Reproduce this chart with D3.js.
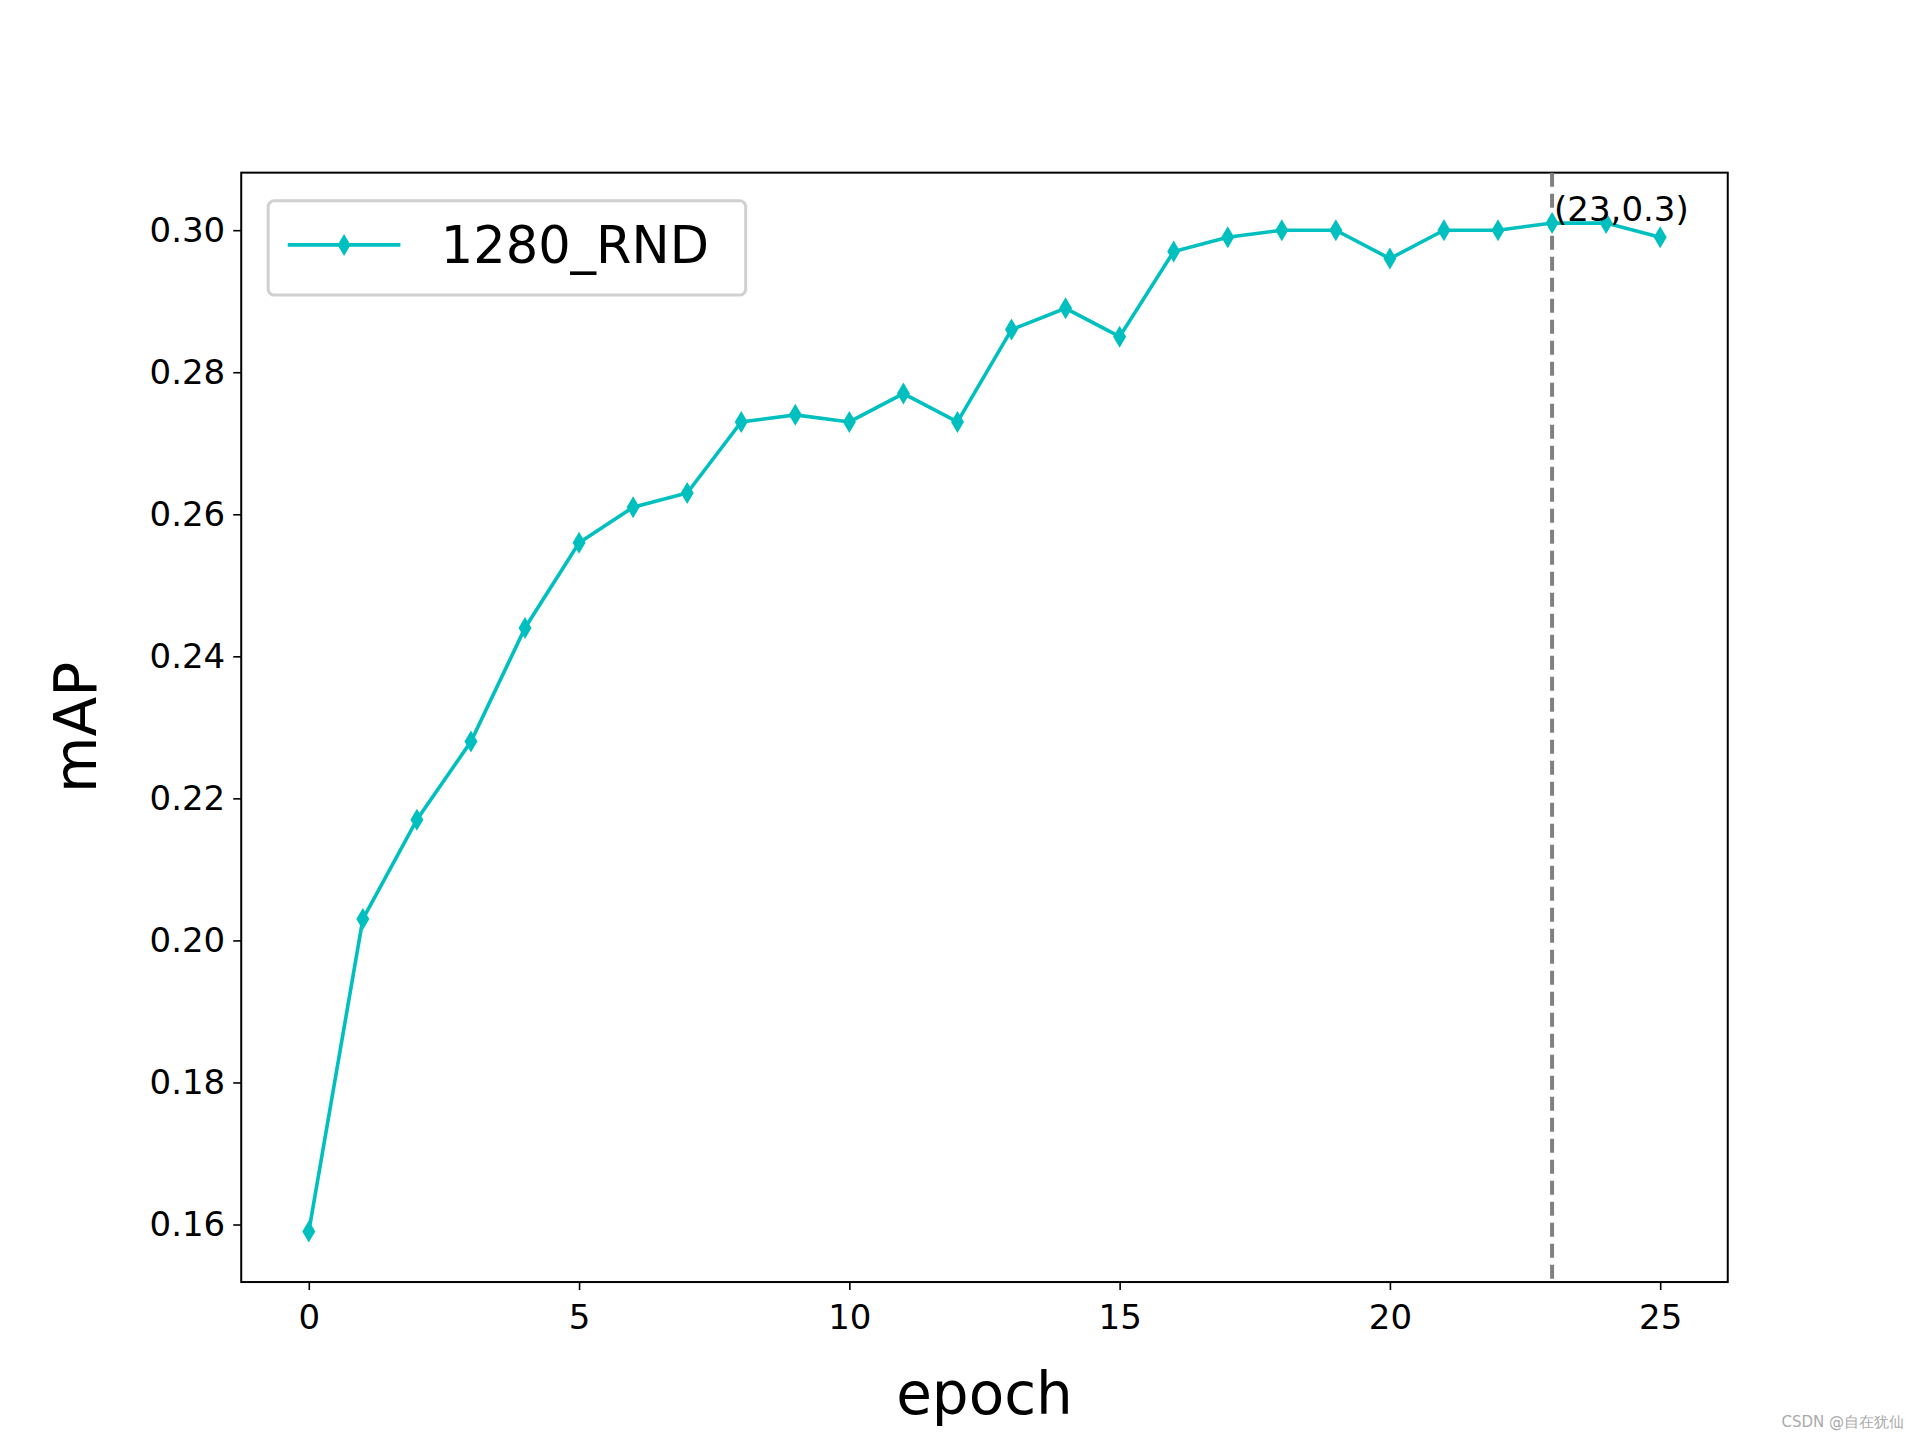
<!DOCTYPE html>
<html><head><meta charset="utf-8">
<script src="https://cdn.jsdelivr.net/npm/d3@7"></script>
<style>body{margin:0;background:#fff}text{font-family:"DejaVu Sans",sans-serif}</style>
</head><body><div id="chart"></div>
<script>
const epochs = d3.range(0, 26);
const mapValues = [0.159,0.203,0.217,0.228,0.244,0.256,0.261,0.263,0.273,0.274,0.273,0.277,0.273,0.286,0.289,0.285,0.297,0.299,0.300,0.300,0.296,0.300,0.300,0.301,0.301,0.299];
const xTicks = [0,5,10,15,20,25];
const yTicks = [0.16,0.18,0.20,0.22,0.24,0.26,0.28,0.30];
const bestEpoch = 23;

const W = 1920, H = 1440, k = 1920 / 1568;
const m = {left: 197*k, right: 1411*k, top: 141*k, bottom: 1047*k};
const color = '#00bfbf';

const svg = d3.select('#chart').append('svg').attr('width', W).attr('height', H);
const x = d3.scaleLinear().domain([-1.25, 26.25]).range([m.left, m.right]);
const y = d3.scaleLinear().domain([0.1519, 0.3081]).range([m.bottom, m.top]);

const xa = svg.append('g').attr('transform', `translate(0,${m.bottom})`)
  .call(d3.axisBottom(x).tickValues(xTicks).tickFormat(d3.format('d')).tickSize(8).tickPadding(8));
const ya = svg.append('g').attr('transform', `translate(${m.left},0)`)
  .call(d3.axisLeft(y).tickValues(yTicks).tickFormat(d3.format('.2f')).tickSize(8).tickPadding(8));
[xa, ya].forEach(a => {
  a.selectAll('text').attr('font-size', 34).attr('fill', '#000');
  a.selectAll('line').attr('stroke', '#000').attr('stroke-width', 1.6);
  a.select('.domain').remove();
});
xa.selectAll('text').attr('dy', '0.9em');
svg.append('rect').attr('x', m.left).attr('y', m.top).attr('width', m.right - m.left)
  .attr('height', m.bottom - m.top).attr('fill', 'none').attr('stroke', '#000').attr('stroke-width', 2);

// best epoch marker
svg.append('line').attr('x1', x(bestEpoch)).attr('x2', x(bestEpoch)).attr('y1', m.top).attr('y2', m.bottom)
  .attr('stroke', '#808080').attr('stroke-width', 4).attr('stroke-dasharray', '14,7');

const data = epochs.map((e, i) => ({e, v: mapValues[i]}));
svg.append('path').datum(data).attr('fill', 'none').attr('stroke', color).attr('stroke-width', 3.6)
  .attr('d', d3.line().x(d => x(d.e)).y(d => y(d.v)));
const diamond = 'M0,-11L6.5,0L0,11L-6.5,0Z';
svg.selectAll('.pt').data(data).enter().append('path').attr('d', diamond)
  .attr('transform', d => `translate(${x(d.e)},${y(d.v)})`).attr('fill', color);

svg.append('text').attr('x', x(bestEpoch) + 2).attr('y', y(mapValues[bestEpoch]) - 2)
  .attr('font-size', 34).text('(23,0.3)');

// legend
const lg = svg.append('g');
lg.append('rect').attr('x', 219*k).attr('y', 164*k).attr('width', 390*k).attr('height', 77*k)
  .attr('rx', 6).attr('fill', '#fff').attr('stroke', '#d0d0d0').attr('stroke-width', 3);
lg.append('line').attr('x1', 235*k).attr('x2', 327*k).attr('y1', 200*k).attr('y2', 200*k)
  .attr('stroke', color).attr('stroke-width', 3.6);
lg.append('path').attr('d', diamond).attr('transform', `translate(${281*k},${200*k})`).attr('fill', color);
lg.append('text').attr('x', 360*k).attr('y', 200*k).attr('dy', '0.36em').attr('font-size', 51).text('1280_RND');

svg.append('text').attr('x', (m.left + m.right) / 2).attr('y', 1155*k).attr('text-anchor', 'middle')
  .attr('font-size', 58).text('epoch');
svg.append('text').attr('transform', `translate(${78*k},${(m.top + m.bottom) / 2}) rotate(-90)`)
  .attr('text-anchor', 'middle').attr('font-size', 58).text('mAP');
svg.append('text').attr('x', 1555*k).attr('y', 1165*k).attr('text-anchor', 'end').attr('font-size', 15)
  .attr('fill', '#aaa').text('CSDN @自在犹仙');
</script></body></html>
